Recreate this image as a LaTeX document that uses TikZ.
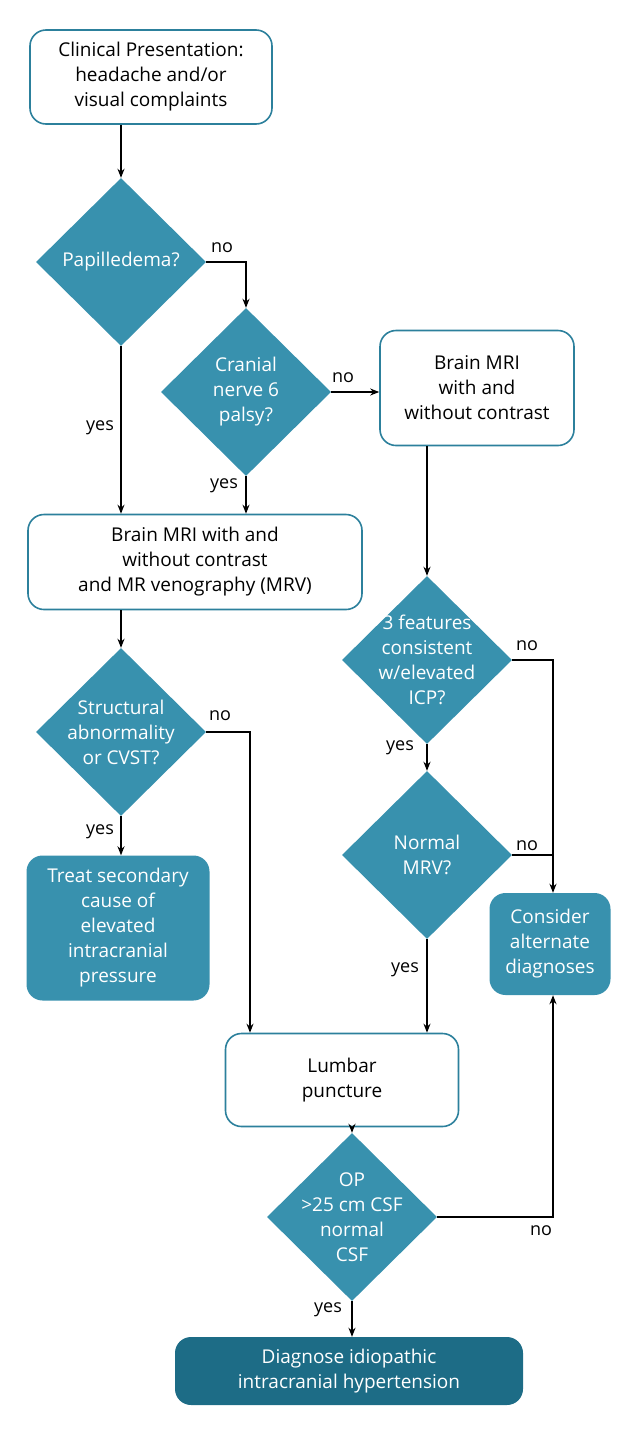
\documentclass[tikz,border=0pt]{standalone}
\usepackage{fontspec}
\setmainfont{Open Sans}
\usetikzlibrary{shapes.geometric,arrows.meta}
\definecolor{teal1}{HTML}{3891AE}
\definecolor{tealb}{HTML}{2C809C}
\definecolor{teald}{HTML}{1D6C86}
\begin{document}
\begin{tikzpicture}[x=1pt,y=-1pt,
  wbox/.style={draw=tealb,line width=1.6pt,fill=white,rounded corners=16pt,align=center,font=\fontsize{19}{25}\selectfont,inner sep=0pt},
  fbox/.style={fill=teal1,rounded corners=16pt,align=center,text=white,font=\fontsize{19}{25}\selectfont,inner sep=0pt},
  dia/.style={diamond,fill=teal1,inner sep=0pt,minimum width=170pt,minimum height=168pt},
  dt/.style={text=white,align=center,font=\fontsize{19}{25}\selectfont},
  arr/.style={-{Stealth[length=9pt,width=7pt]},line width=1.6pt},
  ln/.style={line width=1.6pt},
  lab/.style={font=\fontsize{18}{22}\selectfont}]
\useasboundingbox (0,0) rectangle (632,1430);
\node[wbox,minimum width=242pt,minimum height=94pt] (clin) at (151,77) {Clinical Presentation:\\headache and/or\\visual complaints};
\node[dia] (pap) at (121,262) {}; \node[dt] (papt) at (121,262) {Papilledema?};
\node[dia] (cn) at (246,392) {}; \node[dt] (cnt) at (246,392) {Cranial\\nerve 6\\palsy?};
\node[wbox,minimum width=194pt,minimum height=115pt] (mri1) at (477,388) {Brain MRI\\with and\\without contrast};
\node[wbox,minimum width=334pt,minimum height=95pt] (mri2) at (195,562) {Brain MRI with and\\without contrast\\and MR venography (MRV)};
\node[dia] (st) at (121,732) {}; \node[dt] (stt) at (121,732) {Structural\\abnormality\\or CVST?};
\node[fbox,minimum width=183pt,minimum height=145pt] (tr) at (118,928) {Treat secondary\\cause of\\elevated\\intracranial\\pressure};
\node[dia] (f3) at (427,660) {}; \node[dt] (f3t) at (427,660) {3 features\\consistent\\w/elevated\\ICP?};
\node[dia] (mrv) at (427,855) {}; \node[dt] (mrvt) at (427,855) {Normal\\MRV?};
\node[fbox,minimum width=121pt,minimum height=102pt] (alt) at (550,944) {Consider\\alternate\\diagnoses};
\node[wbox,minimum width=233pt,minimum height=93pt] (lp) at (342,1080) {Lumbar\\puncture};
\node[dia] (op) at (352,1217) {}; \node[dt] (opt) at (352,1217) {OP\\>25 cm CSF\\normal\\CSF};
\node[fbox,fill=teald,minimum width=348pt,minimum height=68pt] (dx) at (349,1371) {Diagnose idiopathic\\intracranial hypertension};
\coordinate (c1) at (246,262);
\coordinate (c2) at (250,732);
\coordinate (c3) at (553,660);
\coordinate (c4) at (553,855);
\coordinate (c5) at (553,1217);
\draw[arr] (clin.south -| pap) -- (pap.north);
\draw[arr] (pap.east) -- (c1) -- (cn.north);
\draw[arr] (pap.south) -- (pap |- mri2.north);
\draw[arr] (cn.east) -- (cn.east -| mri1.west);
\draw[arr] (cn.south) -- (cn |- mri2.north);
\draw[arr] (mri1.south -| f3) -- (f3.north);
\draw[arr] (mri2.south -| st) -- (st.north);
\draw[arr] (st.south) -- (st |- tr.north);
\draw[arr] (st.east) -- (c2) -- (c2 |- lp.north);
\draw[arr] (f3.south) -- (mrv.north);
\draw[arr] (f3.east) -- (c3) -- (c3 |- alt.north);
\draw[ln] (mrv.east) -- (c4);
\draw[arr] (mrv.south) -- (mrv |- lp.north);
\draw[arr] (lp.south -| op) -- (op.north);
\draw[arr] (op.east) -- (c5) -- (c5 |- alt.south);
\draw[arr] (op.south) -- (op |- dx.north);
\node[lab] (l1) at (222,248) {no};
\node[lab] (l2) at (100,428) {yes};
\node[lab] (l3) at (343,378) {no};
\node[lab] (l4) at (224,486) {yes};
\node[lab] (l5) at (100,832) {yes};
\node[lab] (l6) at (220,716) {no};
\node[lab] (l7) at (400,748) {yes};
\node[lab] (l8) at (527,646) {no};
\node[lab] (l9) at (527,846) {no};
\node[lab] (l10) at (405,970) {yes};
\node[lab] (l11) at (541,1231) {no};
\node[lab] (l12) at (328,1310) {yes};
\end{tikzpicture}
\end{document}
